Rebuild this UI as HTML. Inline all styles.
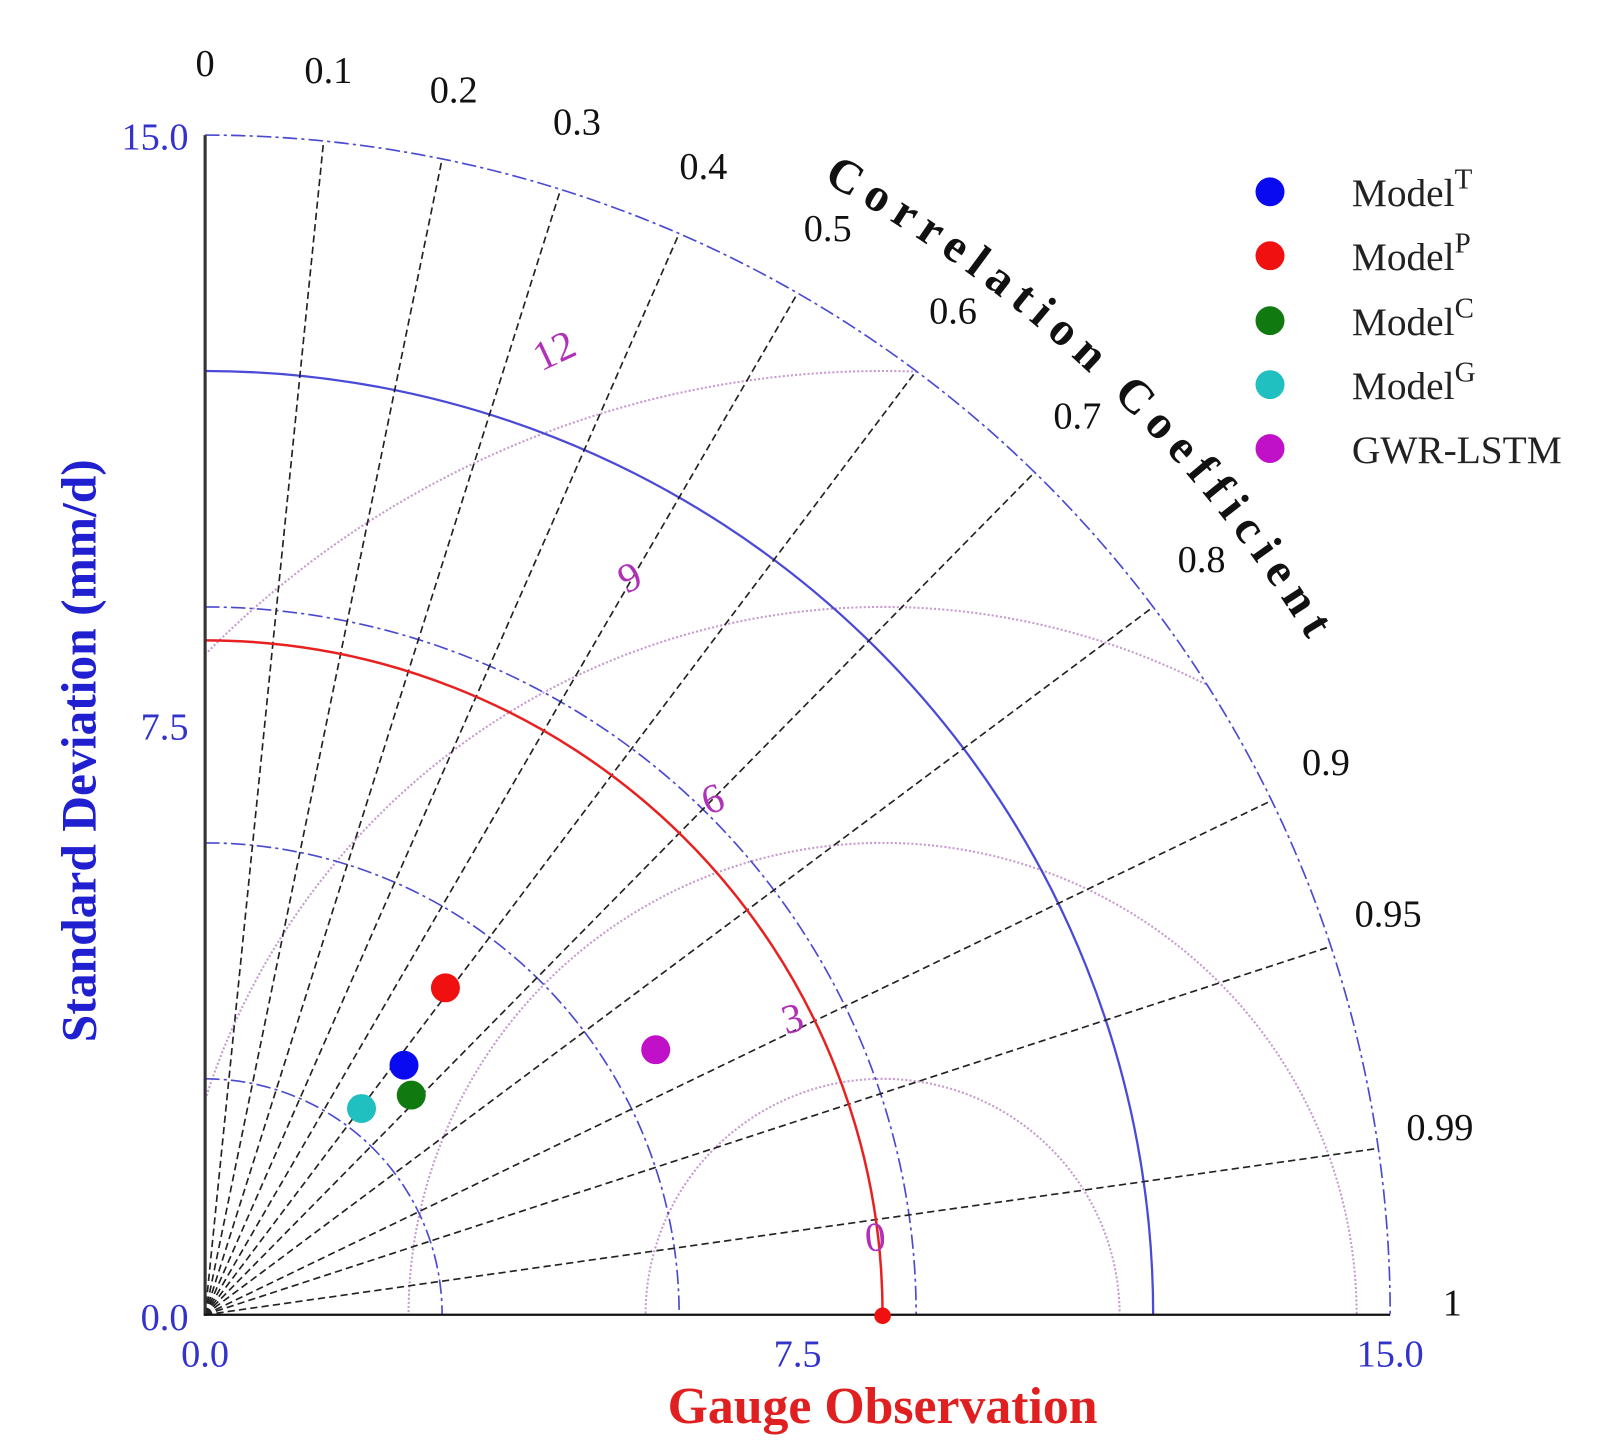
<!DOCTYPE html>
<html><head><meta charset="utf-8"><style>html,body{margin:0;padding:0;background:#fff;overflow:hidden;width:1616px;height:1455px}svg{display:block}</style></head>
<body>
<svg width="1616" height="1455" viewBox="0 0 1560 1411" preserveAspectRatio="none" xmlns="http://www.w3.org/2000/svg" font-family="Liberation Serif, serif">
<defs>
<clipPath id="q"><path d="M198,1275 L198,131 A1144,1144 0 0 1 1342,1275 Z"/></clipPath>
<path id="arc" d="M794,176 A1250,1250 0 0 1 1302,689" fill="none"/>
</defs>
<g clip-path="url(#q)" fill="none" stroke="#c89ad0" stroke-width="2" stroke-dasharray="2 2">
<circle cx="852" cy="1275" r="228.8"/>
<circle cx="852" cy="1275" r="457.6"/>
<circle cx="852" cy="1275" r="686.4"/>
<circle cx="852" cy="1275" r="915.2"/>
</g>
<g fill="none" stroke="#4a4ad0" stroke-width="1.6" stroke-dasharray="14 4 3 4">
<path d="M198,1046.2 A228.8,228.8 0 0 1 426.8,1275"/>
<path d="M198,817.4 A457.6,457.6 0 0 1 655.6,1275"/>
<path d="M198,588.6 A686.4,686.4 0 0 1 884.4,1275"/>
<path d="M198,131 A1144,1144 0 0 1 1342,1275"/>
</g>
<path d="M198,359.8 A915.2,915.2 0 0 1 1113.2,1275" fill="none" stroke="#4a4ad8" stroke-width="2.2"/>
<g stroke="#222" stroke-width="1.6" stroke-dasharray="7 4" fill="none">
<line x1="198" y1="1275" x2="312.4" y2="136.7"/>
<line x1="198" y1="1275" x2="426.8" y2="154.1"/>
<line x1="198" y1="1275" x2="541.2" y2="183.7"/>
<line x1="198" y1="1275" x2="655.6" y2="226.5"/>
<line x1="198" y1="1275" x2="770" y2="284.3"/>
<line x1="198" y1="1275" x2="884.4" y2="359.8"/>
<line x1="198" y1="1275" x2="998.8" y2="458"/>
<line x1="198" y1="1275" x2="1113.2" y2="588.6"/>
<line x1="198" y1="1275" x2="1227.6" y2="776.3"/>
<line x1="198" y1="1275" x2="1284.8" y2="917.8"/>
<line x1="198" y1="1275" x2="1330.6" y2="1113.6"/>
</g>
<path d="M198,621 A654,654 0 0 1 852,1275" fill="none" stroke="#e82020" stroke-width="2.4"/>
<line x1="198" y1="131" x2="198" y2="1276" stroke="#333" stroke-width="3"/>
<line x1="197" y1="1275" x2="1342" y2="1275" stroke="#111" stroke-width="2.2"/>
<circle cx="852" cy="1276" r="8" fill="#f01010"/>
<g fill="#b030b8" font-size="40">
<text x="535" y="353" transform="rotate(-25 535 340)" text-anchor="middle">12</text>
<text x="608" y="573" transform="rotate(-25 608 560)" text-anchor="middle">9</text>
<text x="688" y="788" transform="rotate(-20 688 775)" text-anchor="middle">6</text>
<text x="765" y="1001" transform="rotate(-15 765 988)" text-anchor="middle">3</text>
<text x="845" y="1213" transform="rotate(-5 845 1200)" text-anchor="middle">0</text>
</g>
<g font-size="37" fill="#111" text-anchor="middle" dominant-baseline="central">
<text x="198" y="62">0</text><text x="317" y="69">0.1</text><text x="438" y="88">0.2</text>
<text x="557" y="119">0.3</text><text x="679" y="162">0.4</text><text x="799" y="222">0.5</text>
<text x="920" y="302">0.6</text><text x="1040" y="404">0.7</text><text x="1160" y="543">0.8</text>
<text x="1280" y="740">0.9</text><text x="1340" y="887">0.95</text><text x="1390" y="1094">0.99</text>
<text x="1402" y="1264">1</text>
</g>
<text font-size="46" font-weight="bold" fill="#111" letter-spacing="9"><textPath href="#arc">Correlation Coefficient</textPath></text>
<g font-size="37" fill="#3333cc">
<text x="182" y="145" text-anchor="end">15.0</text>
<text x="182" y="717" text-anchor="end">7.5</text>
<text x="182" y="1290" text-anchor="end">0.0</text>
<text x="198" y="1325" text-anchor="middle">0.0</text>
<text x="770" y="1325" text-anchor="middle">7.5</text>
<text x="1342" y="1325" text-anchor="middle">15.0</text>
</g>
<text x="852" y="1380" font-size="50" font-weight="bold" fill="#e02020" text-anchor="middle">Gauge Observation</text>
<text transform="translate(92,728) rotate(-90)" font-size="48" font-weight="bold" fill="#2020d0" text-anchor="middle">Standard Deviation (mm/d)</text>
<circle cx="430" cy="958" r="14" fill="#f01010"/>
<circle cx="390" cy="1033" r="14" fill="#0a0af0"/>
<circle cx="397" cy="1062" r="14" fill="#107a10"/>
<circle cx="349" cy="1075" r="14" fill="#20c0c0"/>
<circle cx="633" cy="1018" r="14" fill="#c010c8"/>
<g font-size="38" fill="#222">
<circle cx="1226" cy="186" r="14" fill="#0a0af0"/><text x="1305" y="200">Model<tspan font-size="28" dy="-17">T</tspan></text>
<circle cx="1226" cy="248" r="14" fill="#f01010"/><text x="1305" y="262">Model<tspan font-size="28" dy="-17">P</tspan></text>
<circle cx="1226" cy="311" r="14" fill="#107a10"/><text x="1305" y="325">Model<tspan font-size="28" dy="-17">C</tspan></text>
<circle cx="1226" cy="373" r="14" fill="#20c0c0"/><text x="1305" y="387">Model<tspan font-size="28" dy="-17">G</tspan></text>
<circle cx="1226" cy="435" r="14" fill="#c010c8"/><text x="1305" y="449">GWR-LSTM</text>
</g>
</svg>
</body></html>
